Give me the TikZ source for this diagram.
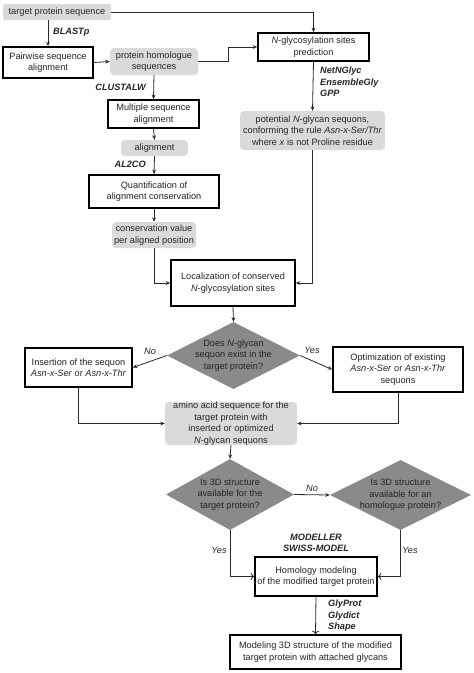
\documentclass[tikz,border=0pt]{standalone}
\usepackage{fontspec}
\setmainfont{Liberation Sans}
\usetikzlibrary{shapes.geometric,arrows.meta,positioning}
\definecolor{txt}{HTML}{252525}
\definecolor{lightfill}{HTML}{DADADA}
\definecolor{darkfill}{HTML}{8A8A8A}
\definecolor{linec}{HTML}{2A2A2A}
\begin{document}
\begin{tikzpicture}[x=1pt,y=-1pt,
  every node/.style={text=txt},
  font=\fontsize{9.2}{11.5}\selectfont,
  thickbox/.style={draw=black, line width=1.6pt, fill=white, align=center, inner sep=0pt},
  graybox/.style={fill=lightfill, rounded corners=4pt, align=center, inner sep=0pt},
  decision/.style={diamond, fill=darkfill, inner sep=0pt},
  tool/.style={font=\fontsize{9.2}{11.5}\selectfont\bfseries\itshape, inner sep=0pt},
  yn/.style={font=\fontsize{9.2}{11.5}\selectfont\itshape, inner sep=0pt},
  arr/.style={draw=linec, line width=0.8pt, -{Stealth[length=4.5pt,width=3.8pt]}},
  oarr/.style={draw=linec, line width=0.8pt, -{To[length=3.5pt,width=7pt]}}
]
\useasboundingbox (0,0) rectangle (474,673);

% nodes
\node[graybox, rounded corners=2pt, minimum width=108, minimum height=16] (target) at (57,12) {target protein sequence};
\node[thickbox, minimum width=90, minimum height=31] (pair) at (48,62.5) {Pairwise sequence\\alignment};
\node[graybox, minimum width=88, minimum height=27] (homseq) at (154,61.5) {protein homologue\\sequences};
\node[thickbox, minimum width=111, minimum height=28] (nglyc) at (313.5,47) {\textit{N}-glycosylation sites\\prediction};
\node[thickbox, minimum width=91, minimum height=28] (msa) at (153.5,114) {Multiple sequence\\alignment};
\node[graybox, minimum width=145, minimum height=39] (pot) at (312.5,130.5) {potential \textit{N}-glycan sequons,\\conforming the rule \textit{Asn-x-Ser/Thr}\\where \textit{x} is not Proline residue};
\node[graybox, minimum width=67, minimum height=16] (align) at (154.5,148) {alignment};
\node[thickbox, minimum width=130, minimum height=33] (quant) at (154,191.5) {Quantification of\\alignment conservation};
\node[graybox, minimum width=84, minimum height=26] (cons) at (154,235) {conservation value\\per aligned position};
\node[thickbox, minimum width=124, minimum height=46] (loc) at (233,283) {Localization of conserved\\\textit{N}-glycosylation sites};
\node[decision, minimum width=133, minimum height=67] (d1) at (233.5,355.5) {};
\node[align=center, inner sep=0pt] (d1t) at (d1) {Does \textit{N}-glycan\\sequon exist in the\\target protein?};
\node[thickbox, minimum width=107, minimum height=39] (ins) at (78.5,367.5) {Insertion of the sequon\\\textit{Asn-x-Ser} or \textit{Asn-x-Thr}};
\node[thickbox, minimum width=130, minimum height=45] (opt) at (398,369.5) {Optimization of existing\\\textit{Asn-x-Ser} or \textit{Asn-x-Thr}\\sequons};
\node[graybox, minimum width=132, minimum height=43] (amino) at (231,423.5) {amino acid sequence for the\\target protein with\\inserted or optimized\\\textit{N}-glycan sequons};
\node[decision, minimum width=128, minimum height=71] (d2) at (230,494.5) {};
\node[align=center, inner sep=0pt] (d2t) at (d2) {Is 3D structure\\available for the\\target protein?};
\node[decision, minimum width=141, minimum height=70] (d3) at (400.5,495) {};
\node[align=center, inner sep=0pt] (d3t) at (d3) {Is 3D structure\\available for an\\homologue protein?};
\node[thickbox, minimum width=122, minimum height=39] (hom) at (316,576.5) {Homology modeling\\of the modified target protein};
\node[thickbox, minimum width=171, minimum height=34] (final) at (315.5,652) {Modeling 3D structure of the modified\\target protein with attached glycans};

% tool labels
\node[tool, anchor=west] (blast) at (53,32) {BLASTp};
\node[tool, anchor=east] (clustal) at (146,87) {CLUSTALW};
\node[tool, anchor=east] (al2co) at (146,164) {AL2CO};
\node[tool, anchor=north west, align=left] (netn) at (320,67) {NetNGlyc\\EnsembleGly\\GPP};
\node[tool, align=center] (modeller) at (316,543) {MODELLER\\SWISS-MODEL};
\node[tool, anchor=north west, align=left] (glyprot) at (328,600) {GlyProt\\Glydict\\Shape};
\node[yn] (no1) at (150,351) {No};
\node[yn] (yes1) at (312,350) {Yes};
\node[yn] (no2) at (312,488) {No};
\node[yn] (yes2) at (219,550) {Yes};
\node[yn] (yes3) at (410,550) {Yes};

% connectors
\draw[arr] (target.east) -| (nglyc.north);
\draw[arr] (pair.north |- target.south) -- (pair.north);
\draw[arr] (pair.east) -- (homseq.west);
\draw[arr] (homseq.east) -- ++(30,0) |- (nglyc.west);
\draw[arr] (homseq.south) -- (msa.north);
\draw[arr] (nglyc.south) -- (pot.north);
\draw[arr] (msa.south) -- (align.north);
\draw[arr] (align.south) -- (quant.north);
\draw[arr] (quant.south) -- (cons.north);
\draw[arr] (cons.south) |- (loc.west);
\draw[arr] (pot.south) |- (loc.east);
\draw[arr] (loc.south) -- (d1.north);
\draw[arr] (d1.west) -- (ins.east);
\draw[arr] (d1.east) -- (opt.west);
\draw[arr] (ins.south) |- (amino.west);
\draw[arr] (opt.south) |- (amino.east);
\draw[arr] (amino.south) -- (d2.north);
\draw[arr] (d2.east) -- (d3.west);
\draw[oarr] (d2.south) |- (hom.west);
\draw[oarr] (d3.south) |- (hom.east);
\draw[oarr] (hom.south) -- (final.north);
\end{tikzpicture}
\end{document}
